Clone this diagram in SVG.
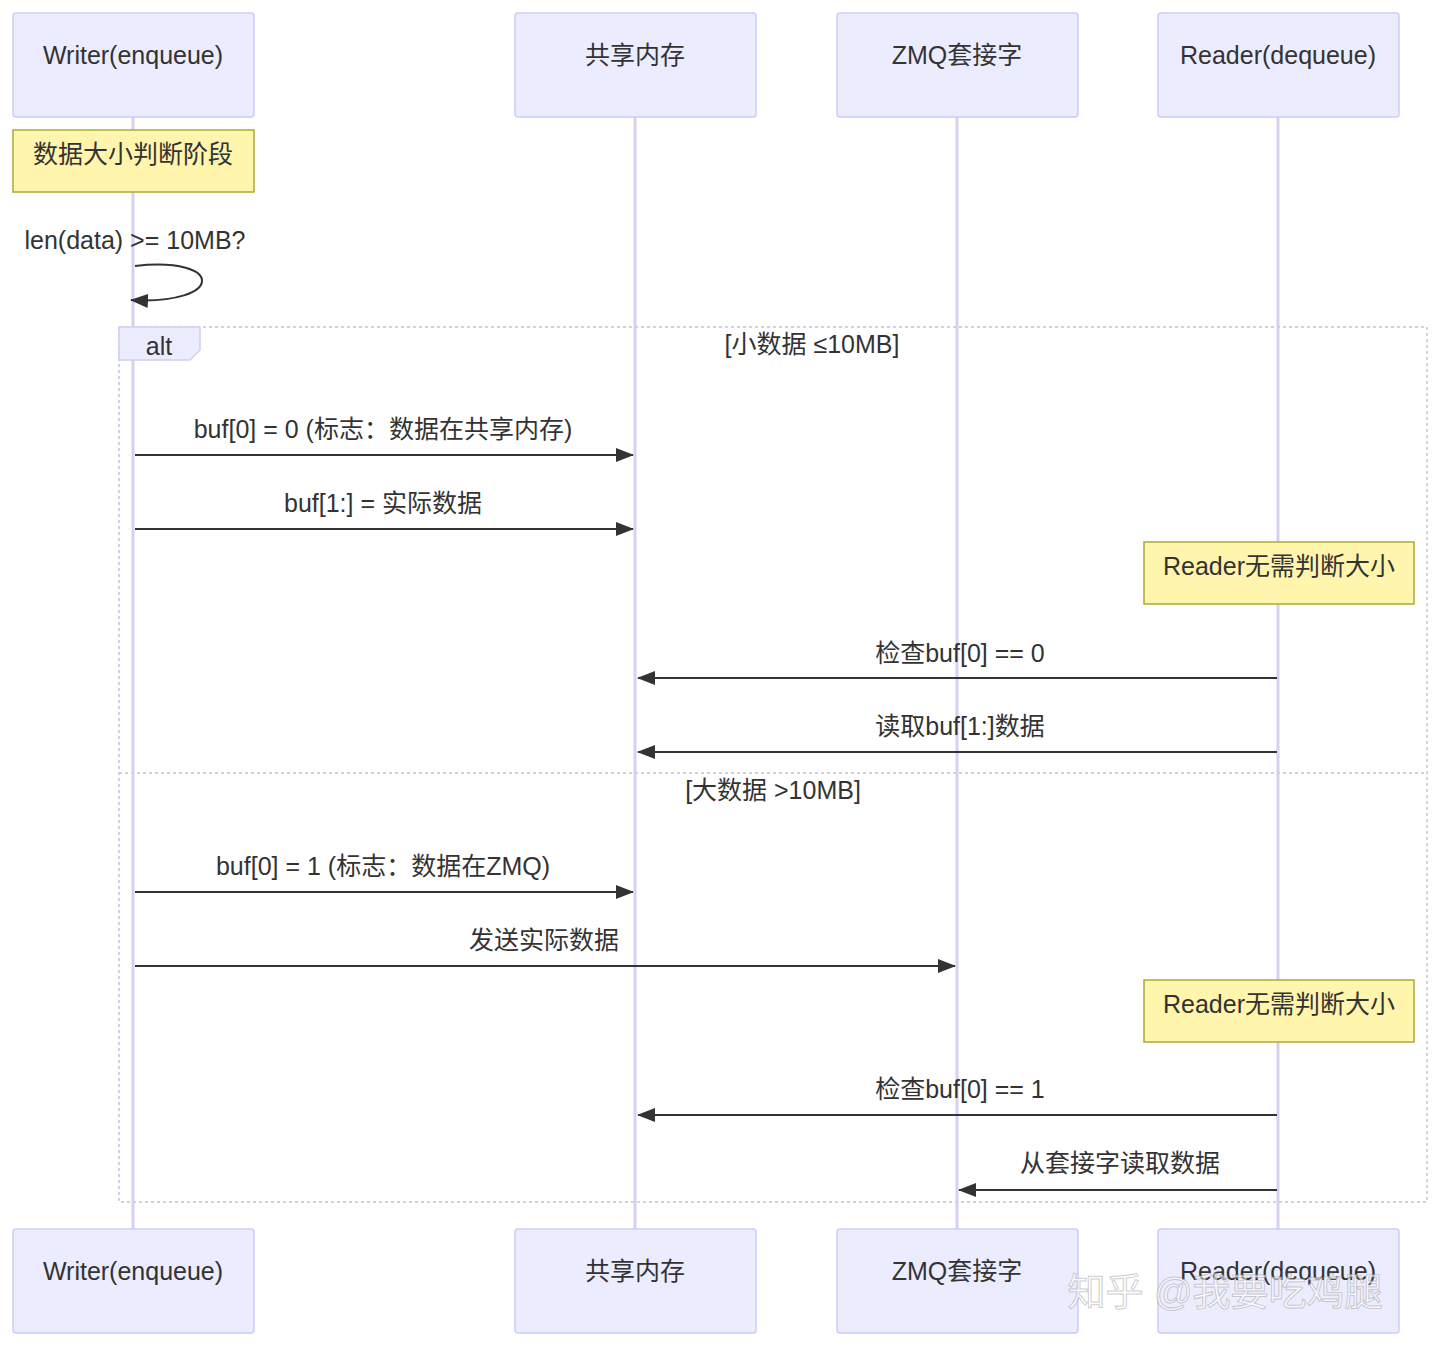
<svg xmlns="http://www.w3.org/2000/svg" width="1440" height="1348" viewBox="0 0 1440 1348">
<defs>
<style>
text{font-family:"Liberation Sans","Noto Sans CJK SC",Arial,sans-serif;font-size:25px;fill:#333;text-anchor:middle}
.actor{fill:#ECECFF;stroke:#CCCCFF;stroke-width:1.5}
.life{stroke:#D8D0F0;stroke-width:3}
.note{fill:#FFF5AD;stroke:#AAAA33;stroke-width:1.5}
.msg{stroke:#333;stroke-width:2;fill:none}
.loop{stroke:#D0D0E8;stroke-width:2;fill:none;stroke-dasharray:3 3}
</style>
<marker id="ah" viewBox="0 0 18 14" refX="17" refY="7" markerWidth="18" markerHeight="14" markerUnits="userSpaceOnUse" orient="auto"><path d="M0,0 L18,7 L0,14 z" fill="#333"/></marker>
</defs>
<rect width="1440" height="1348" fill="#fff"/>
<g id="lifelines">
<line class="life" x1="133" y1="117" x2="133" y2="1229"/>
<line class="life" x1="635" y1="117" x2="635" y2="1229"/>
<line class="life" x1="957" y1="117" x2="957" y2="1229"/>
<line class="life" x1="1278" y1="117" x2="1278" y2="1229"/>
</g>
<g id="writer"><rect class="actor" x="13" y="13" width="241" height="104" rx="3"/><text x="133" y="64">Writer(enqueue)</text></g>
<g id="shm"><rect class="actor" x="515" y="13" width="241" height="104" rx="3"/><text x="635" y="64">共享内存</text></g>
<g id="zmq"><rect class="actor" x="837" y="13" width="241" height="104" rx="3"/><text x="957" y="64">ZMQ套接字</text></g>
<g id="reader"><rect class="actor" x="1158" y="13" width="241" height="104" rx="3"/><text x="1278" y="64">Reader(dequeue)</text></g>
<g id="writer-b"><rect class="actor" x="13" y="1229" width="241" height="104" rx="3"/><text x="133" y="1280">Writer(enqueue)</text></g>
<g id="shm-b"><rect class="actor" x="515" y="1229" width="241" height="104" rx="3"/><text x="635" y="1280">共享内存</text></g>
<g id="zmq-b"><rect class="actor" x="837" y="1229" width="241" height="104" rx="3"/><text x="957" y="1280">ZMQ套接字</text></g>
<g id="reader-b"><rect class="actor" x="1158" y="1229" width="241" height="104" rx="3"/><text x="1278" y="1280">Reader(dequeue)</text></g>
<g id="note1"><rect class="note" x="13" y="130" width="241" height="62"/><text x="133" y="163">数据大小判断阶段</text></g>
<g id="alt">
<rect class="loop" x="119" y="327" width="1308" height="875"/>
<path d="M119,327 H200 V350 L190,360 H119 z" fill="#ECECFF" stroke="#D0D0E8" stroke-width="1.5"/>
<text x="159" y="355">alt</text>
<text x="812" y="353">[小数据 ≤10MB]</text>
<line class="loop" x1="119" y1="773" x2="1427" y2="773"/>
<text x="773" y="799">[大数据 &gt;10MB]</text>
</g>
<g id="note2"><rect class="note" x="1144" y="542" width="270" height="62"/><text x="1279" y="575">Reader无需判断大小</text></g>
<g id="note3"><rect class="note" x="1144" y="980" width="270" height="62"/><text x="1279" y="1013">Reader无需判断大小</text></g>
<g id="connectors">
<text x="135" y="249">len(data) &gt;= 10MB?</text>
<path class="msg" d="M135,266 C225,256 225,305 131,300" marker-end="url(#ah)"/>
<line class="msg" x1="135" y1="455" x2="633" y2="455" marker-end="url(#ah)"/>
<text x="383" y="438">buf[0] = 0 (标志：数据在共享内存)</text>
<line class="msg" x1="135" y1="529" x2="633" y2="529" marker-end="url(#ah)"/>
<text x="383" y="512">buf[1:] = 实际数据</text>
<line class="msg" x1="1277" y1="678" x2="638" y2="678" marker-end="url(#ah)"/>
<text x="960" y="662">检查buf[0] == 0</text>
<line class="msg" x1="1277" y1="752" x2="638" y2="752" marker-end="url(#ah)"/>
<text x="960" y="735">读取buf[1:]数据</text>
<line class="msg" x1="135" y1="892" x2="633" y2="892" marker-end="url(#ah)"/>
<text x="383" y="875">buf[0] = 1 (标志：数据在ZMQ)</text>
<line class="msg" x1="135" y1="966" x2="955" y2="966" marker-end="url(#ah)"/>
<text x="544" y="949">发送实际数据</text>
<line class="msg" x1="1277" y1="1115" x2="638" y2="1115" marker-end="url(#ah)"/>
<text x="960" y="1098">检查buf[0] == 1</text>
<line class="msg" x1="1277" y1="1190" x2="959" y2="1190" marker-end="url(#ah)"/>
<text x="1120" y="1172">从套接字读取数据</text>
</g>
<text x="1225" y="1305" style="font-size:38px;fill:#fff;fill-opacity:0.6;stroke:#999;stroke-opacity:0.5;stroke-width:1">知乎 @我要吃鸡腿</text>
</svg>
